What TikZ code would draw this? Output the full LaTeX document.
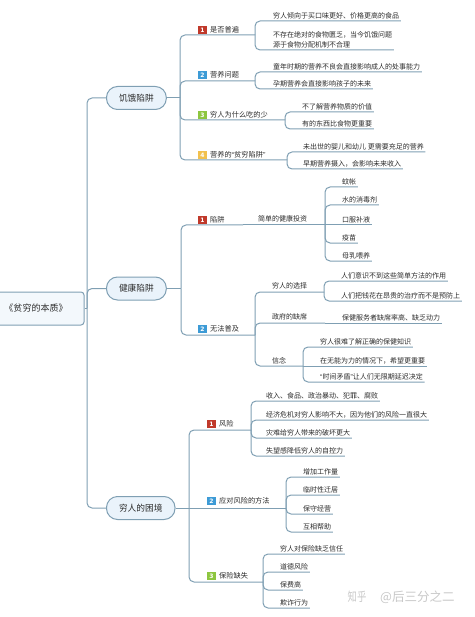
\documentclass[tikz,border=0pt]{standalone}
\usepackage{fontspec}
\setmainfont{Noto Sans CJK SC}
\newfontfamily\numfont{DejaVu Sans}
\newfontfamily\quotefont{Liberation Sans}
\newcommand\qopen{{\quotefont “}}
\newcommand\qclose{{\quotefont ”}}
\definecolor{linec}{HTML}{7F9FB3}
\definecolor{bubf}{HTML}{EAF3FB}
\definecolor{rootf}{HTML}{F3F8FC}
\definecolor{txt}{HTML}{2B2B2B}
\definecolor{bred}{HTML}{C0392B}
\definecolor{bblue}{HTML}{3D9BD6}
\definecolor{bgreen}{HTML}{8DC63F}
\definecolor{byellow}{HTML}{F2C14E}
\definecolor{wmc}{HTML}{C8C8C8}
\begin{document}
\begin{tikzpicture}[x=1pt,y=-1pt,
  conn/.style={draw=linec,line width=1pt,rounded corners=5pt},
  leaf/.style={font=\fontsize{7}{10}\selectfont,text=txt,inner xsep=1.5pt,inner ysep=2pt,anchor=south west,align=left},
  mid/.style={font=\fontsize{7}{9}\selectfont,text=txt,inner sep=0pt,anchor=west},
  lvtwo/.style={font=\fontsize{7.2}{9}\selectfont,text=txt,inner sep=0pt,anchor=west},
  badge/.style={fill=#1,text=white,font=\numfont\bfseries\fontsize{6}{6}\selectfont,minimum width=9pt,minimum height=8.5pt,inner sep=0pt},
  bubble/.style={draw=linec,fill=bubf,line width=1pt,rounded corners=11pt,minimum height=23pt,inner xsep=12.5pt,font=\fontsize{8.7}{9}\selectfont,text=txt,anchor=west},
]
\useasboundingbox (0,0) rectangle (474,617);

% root and trunk
\node[draw=linec,fill=rootf,line width=1pt,rounded corners=3pt,minimum width=96pt,minimum height=33pt,font=\fontsize{9}{10}\selectfont,text=txt] (root) at (36,308.5) {《贫穷的本质》};
\node[bubble] (hunger) at (106,98) {饥饿陷阱};
\node[bubble] (health) at (106,288.5) {健康陷阱};
\node[bubble] (poor) at (106,508) {穷人的困境};
\coordinate (TJ) at (87,308.5);
\draw[conn] (root.east) -- (TJ);
\draw[conn] (TJ) |- (hunger.west);
\draw[conn] (TJ) |- (health.west);
\draw[conn] (TJ) |- (poor.west);

% ---------------- hunger ----------------
\coordinate (HuJ) at (180,98);
\draw[conn] (hunger.east) -- (HuJ);

\node[badge=bred] (hb1) at (202.5,30) {1};
\node[lvtwo] (h1) at (210,30) {是否普遍};
\coordinate (h1J) at (255,35);
\draw[conn] (HuJ) |- (h1J);
\node[leaf] (h1a) at (271.5,21) {穷人倾向于买口味更好、价格更高的食品};
\node[leaf] (h1b) at (271.5,50) {不存在绝对的食物匮乏，当今饥饿问题\\源于食物分配机制不合理};
\draw[conn] (h1J) |- (h1a.south east);
\draw[conn] (h1J) |- (h1b.south east);

\node[badge=bblue] (hb2) at (202.5,75) {2};
\node[lvtwo] (h2) at (210,75) {营养问题};
\coordinate (h2J) at (255,81);
\draw[conn] (HuJ) |- (h2J);
\node[leaf] (h2a) at (271.5,72) {童年时期的营养不良会直接影响成人的处事能力};
\node[leaf] (h2b) at (271.5,89) {孕期营养会直接影响孩子的未来};
\draw[conn] (h2J) |- (h2a.south east);
\draw[conn] (h2J) |- (h2b.south east);

\node[badge=bgreen] (hb3) at (202.5,115) {3};
\node[lvtwo] (h3) at (210,115) {穷人为什么吃的少};
\coordinate (h3J) at (285,120);
\draw[conn] (HuJ) |- (h3J);
\node[leaf] (h3a) at (300.5,112) {不了解营养物质的价值};
\node[leaf] (h3b) at (300.5,129) {有的东西比食物更重要};
\draw[conn] (h3J) |- (h3a.south east);
\draw[conn] (h3J) |- (h3b.south east);

\node[badge=byellow] (hb4) at (202.5,155) {4};
\node[lvtwo] (h4) at (210,155) {营养的\qopen 贫穷陷阱\qclose};
\coordinate (h4J) at (287,160);
\draw[conn] (HuJ) |- (h4J);
\node[leaf] (h4a) at (301.5,152) {未出世的婴儿和幼儿 更需要充足的营养};
\node[leaf] (h4b) at (301.5,169) {早期营养摄入，会影响未来收入};
\draw[conn] (h4J) |- (h4a.south east);
\draw[conn] (h4J) |- (h4b.south east);

% ---------------- health ----------------
\coordinate (HJ1) at (181,288.5);
\draw[conn] (health.east) -- (HJ1);

\node[badge=bred] (kb1) at (202.5,220) {1};
\node[lvtwo] (k1) at (210,220) {陷阱};
\coordinate (k1J) at (243,225);
\draw[conn] (HJ1) |- (k1J);
\node[mid] (k1m) at (258,219) {简单的健康投资};
\coordinate (k1mJ) at (325,225);
\draw[conn] (k1J) -- (k1mJ);
\node[leaf] (k1a) at (340.5,187) {蚊帐};
\node[leaf] (k1b) at (340.5,205) {水的消毒剂};
\node[leaf] (k1c) at (340.5,225) {口服补液};
\node[leaf] (k1d) at (340.5,243) {疫苗};
\node[leaf] (k1e) at (340.5,261) {母乳喂养};
\draw[conn] (k1mJ) |- (k1a.south east);
\draw[conn] (k1mJ) |- (k1b.south east);
\draw[conn] (k1mJ) -- (k1c.south east);
\draw[conn] (k1mJ) |- (k1d.south east);
\draw[conn] (k1mJ) |- (k1e.south east);

\node[badge=bblue] (kb2) at (202.5,329) {2};
\node[lvtwo] (k2) at (210,329) {无法普及};
\coordinate (k2J) at (255,335);
\draw[conn] (HJ1) |- (k2J);

\node[mid] (k2x) at (272,286) {穷人的选择};
\coordinate (k2xJ) at (324,292);
\draw[conn] (k2J) |- (k2xJ);
\node[leaf] (k2xa) at (339.5,281) {人们意识不到这些简单方法的作用};
\node[leaf] (k2xb) at (339.5,301) {人们把钱花在昂贵的治疗而不是预防上};
\draw[conn] (k2xJ) |- (k2xa.south east);
\draw[conn] (k2xJ) |- (k2xb.south east);

\node[mid] (k2g) at (272,317) {政府的缺席};
\coordinate (k2gJ) at (325,323);
\draw[conn] (k2J) |- (k2gJ);
\node[leaf] (k2ga) at (340.5,323) {保健服务者缺席率高、缺乏动力};
\draw[conn] (k2gJ) -- (k2ga.south east);

\node[mid] (k2b) at (272,360.5) {信念};
\coordinate (k2bJ) at (303,366);
\draw[conn] (k2J) |- (k2bJ);
\node[leaf] (k2ba) at (318.5,347) {穷人很难了解正确的保健知识};
\node[leaf] (k2bb) at (318.5,366) {在无能为力的情况下，希望更重要};
\node[leaf] (k2bc) at (318.5,382) {\qopen 时间矛盾\qclose 让人们无限期延迟决定};
\draw[conn] (k2bJ) |- (k2ba.south east);
\draw[conn] (k2bJ) -- (k2bb.south east);
\draw[conn] (k2bJ) |- (k2bc.south east);

% ---------------- poor ----------------
\coordinate (PJ1) at (189,508);
\draw[conn] (poor.east) -- (PJ1);

\node[badge=bred] (pb1) at (211.5,424) {1};
\node[lvtwo] (p1) at (219,424) {风险};
\coordinate (p1J) at (251,430);
\draw[conn] (PJ1) |- (p1J);
\node[leaf] (p1a) at (264.5,401) {收入、食品、政治暴动、犯罪、腐败};
\node[leaf] (p1b) at (264.5,420) {经济危机对穷人影响不大，因为他们的风险一直很大};
\node[leaf] (p1c) at (264.5,438) {灾难给穷人带来的破坏更大};
\node[leaf] (p1d) at (264.5,456) {失望感降低穷人的自控力};
\draw[conn] (p1J) |- (p1a.south east);
\draw[conn] (p1J) |- (p1b.south east);
\draw[conn] (p1J) |- (p1c.south east);
\draw[conn] (p1J) |- (p1d.south east);

\node[badge=bblue] (pb2) at (211.5,501) {2};
\node[lvtwo] (p2) at (219,501) {应对风险的方法};
\coordinate (p2J) at (286,508);
\draw[conn] (PJ1) -- (p2J);
\node[leaf] (p2a) at (301.5,477) {增加工作量};
\node[leaf] (p2b) at (301.5,495) {临时性迁居};
\node[leaf] (p2c) at (301.5,514) {保守经营};
\node[leaf] (p2d) at (301.5,532) {互相帮助};
\draw[conn] (p2J) |- (p2a.south east);
\draw[conn] (p2J) |- (p2b.south east);
\draw[conn] (p2J) |- (p2c.south east);
\draw[conn] (p2J) |- (p2d.south east);

\node[badge=bgreen] (pb3) at (211.5,576) {3};
\node[lvtwo] (p3) at (219,576) {保险缺失};
\coordinate (p3J) at (263,582);
\draw[conn] (PJ1) |- (p3J);
\node[leaf] (p3a) at (278.5,554) {穷人对保险缺乏信任};
\node[leaf] (p3b) at (278.5,572) {道德风险};
\node[leaf] (p3c) at (278.5,590) {保费高};
\node[leaf] (p3d) at (278.5,608) {欺诈行为};
\draw[conn] (p3J) |- (p3a.south east);
\draw[conn] (p3J) |- (p3b.south east);
\draw[conn] (p3J) |- (p3c.south east);
\draw[conn] (p3J) |- (p3d.south east);

% watermark
\node[text=wmc,font=\fontsize{12.5}{13}\selectfont,inner sep=0pt] (wm1) at (357,597) {\scalebox{0.75}[1]{知乎}};
\node[text=wmc,font=\fontsize{12.5}{13}\selectfont,inner sep=0pt,anchor=west] (wm2) at (380,597) {@后三分之二};
\end{tikzpicture}
\end{document}
